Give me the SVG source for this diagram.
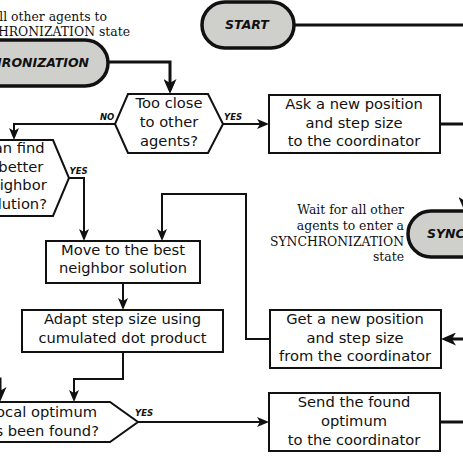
<svg xmlns="http://www.w3.org/2000/svg" width="463" height="463" viewBox="0 0 463 463">
<defs>
<style>
.pill{fill:#cfd0cc;stroke:#111;stroke-width:3.5}
.box{fill:#fff;stroke:#111;stroke-width:2}
.t{font-family:"DejaVu Sans",Verdana,sans-serif;font-size:14.7px;fill:#111;text-anchor:middle}
.te{font-family:"DejaVu Sans",Verdana,sans-serif;font-size:14.7px;fill:#111;text-anchor:end}
.pt{font-family:"DejaVu Sans",Verdana,sans-serif;font-size:12.5px;font-weight:bold;font-style:italic;fill:#111}
.lab{font-family:"DejaVu Sans",Verdana,sans-serif;font-size:8.5px;font-weight:bold;font-style:italic;fill:#111}
.note{font-family:"DejaVu Serif",serif;font-size:12.4px;fill:#111;text-anchor:end}
.c{fill:none;stroke:#111;stroke-width:2}
.ck{fill:none;stroke:#111;stroke-width:3}
</style>
<marker id="a" viewBox="0 0 12 10" refX="9" refY="5" markerWidth="12" markerHeight="10" markerUnits="userSpaceOnUse" orient="auto">
<path d="M0,0 L12,5 L0,10 L3,5 Z" fill="#111"/>
</marker>
<marker id="ak" viewBox="0 0 15 13" refX="11" refY="6.5" markerWidth="15" markerHeight="13" markerUnits="userSpaceOnUse" orient="auto">
<path d="M0,0 L15,6.5 L0,13 L4,6.5 Z" fill="#111"/>
</marker>
</defs>
<rect width="463" height="463" fill="#fff"/>

<g id="connectors">
<path class="ck" d="M108,62 H170 V90" marker-end="url(#ak)"/>
<path class="ck" d="M294,25 H463"/>
<path class="c" d="M115,124 H14 V137" marker-end="url(#a)"/>
<path class="c" d="M223,124 H266" marker-end="url(#a)"/>
<path class="ck" d="M440,124 H465 V208" marker-end="url(#ak)"/>
<path class="c" d="M69,178 H84 V238" marker-end="url(#a)"/>
<path class="c" d="M270,339 H246 V194 H162 V238" marker-end="url(#a)"/>
<path class="c" d="M123,283 V307" marker-end="url(#a)"/>
<path class="c" d="M123,352 V379 H74 V399" marker-end="url(#a)"/>
<path class="ck" d="M-20,379 H0 V398" marker-end="url(#ak)"/>
<path class="c" d="M138,422 H266" marker-end="url(#a)"/>
<path class="ck" d="M440,422 H463"/>
<path class="ck" d="M466,339 H445" marker-end="url(#ak)"/>
<text class="lab" x="100" y="120">NO</text>
<text class="lab" x="224" y="120">YES</text>
<text class="lab" x="69.5" y="174">YES</text>
<text class="lab" x="135" y="416">YES</text>
</g>

<g id="sync-left">
<text class="note" x="107" y="21">Wait for all other agents to</text>
<text class="note" x="130" y="36">enter a SYNCHRONIZATION state</text>
<rect class="pill" x="-75" y="40" width="183" height="46" rx="23"/>
<text class="pt" x="89" y="66.5" text-anchor="end">SYNCHRONIZATION</text>
</g>

<g id="start">
<rect class="pill" x="202" y="2" width="92" height="46" rx="23"/>
<text class="pt" x="247" y="28.5" text-anchor="middle">START</text>
</g>

<g id="too-close">
<polygon class="box" points="128,94 208,94 223,124 208,153 128,153 115,124"/>
<text class="t" x="169" y="108">Too close</text>
<text class="t" x="169" y="127">to other</text>
<text class="t" x="169" y="146">agents?</text>
</g>

<g id="ask">
<rect class="box" x="269" y="95" width="171" height="58"/>
<text class="t" x="354" y="109">Ask a new position</text>
<text class="t" x="354" y="127.5">and step size</text>
<text class="t" x="354" y="146">to the coordinator</text>
</g>

<g id="can-find">
<polygon class="box" points="-25,140 53,140 69,178 53,216 -25,216 -41,178"/>
<text class="t" x="14" y="153">Can find</text>
<text class="t" x="14" y="171.5">a better</text>
<text class="t" x="14" y="190">neighbor</text>
<text class="t" x="14" y="208.5">solution?</text>
</g>

<g id="sync-right">
<text class="note" x="404" y="214">Wait for all other</text>
<text class="note" x="404" y="230">agents to enter a</text>
<text class="note" x="404" y="245.5">SYNCHRONIZATION</text>
<text class="note" x="404" y="261">state</text>
<rect class="pill" x="408" y="211" width="183" height="46" rx="23"/>
<text class="pt" x="427" y="238">SYNCHRONIZATION</text>
</g>

<g id="move">
<rect class="box" x="46" y="241" width="154" height="42"/>
<text class="t" x="123" y="255">Move to the best</text>
<text class="t" x="123" y="273">neighbor solution</text>
</g>

<g id="adapt">
<rect class="box" x="22" y="310" width="201" height="42"/>
<text class="t" x="122.5" y="324">Adapt step size using</text>
<text class="t" x="122.5" y="343">cumulated dot product</text>
</g>

<g id="get">
<rect class="box" x="270" y="310" width="171" height="58"/>
<text class="t" x="355" y="324">Get a new position</text>
<text class="t" x="355" y="343">and step size</text>
<text class="t" x="355" y="361">from the coordinator</text>
</g>

<g id="local-optimum">
<polygon class="box" points="-80,402 110,402 138,422 110,442 -80,442"/>
<text class="te" x="97" y="417">A local optimum</text>
<text class="te" x="99" y="436">has been found?</text>
</g>

<g id="send">
<rect class="box" x="269" y="393" width="171" height="58"/>
<text class="t" x="354" y="407">Send the found</text>
<text class="t" x="354" y="426">optimum</text>
<text class="t" x="354" y="445">to the coordinator</text>
</g>
</svg>
